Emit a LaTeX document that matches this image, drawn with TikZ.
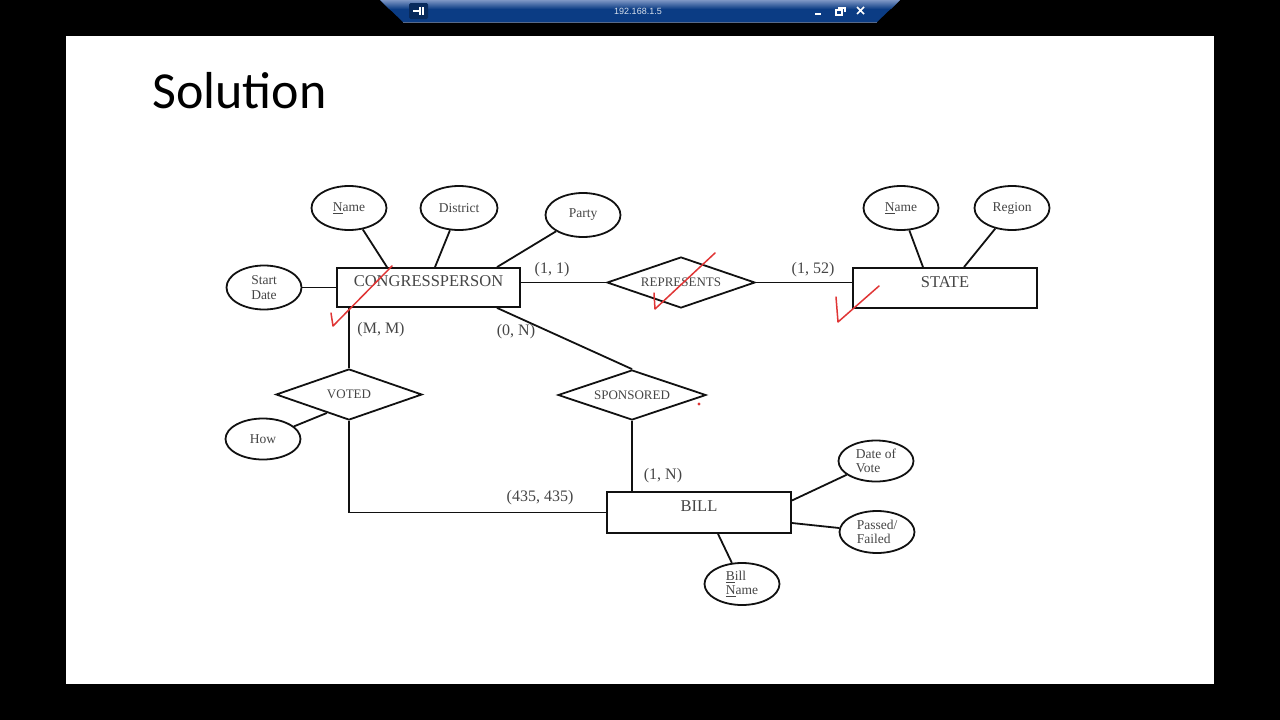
\documentclass[tikz,border=0pt]{standalone}
\usepackage{fontspec}
\setmainfont{Liberation Serif}
\newfontfamily\slidefont{Carlito}
\newfontfamily\barfont{Liberation Sans}
\usetikzlibrary{shapes.geometric,calc,positioning}
\definecolor{erink}{HTML}{111111}
\definecolor{ertext}{HTML}{454545}
\definecolor{checkred}{HTML}{E03535}
\definecolor{barblue}{HTML}{0B3C84}
\definecolor{barlight}{HTML}{7D96C4}
\tikzset{
  entitybox/.style={
    draw=erink, line width=1.8pt, rectangle, inner sep=0pt,
    minimum width=183pt, minimum height=39pt,
    text height=11pt, text depth=13pt,
    font=\fontsize{16.5}{18}\selectfont, text=ertext
  },
  relbox/.style={
    draw=erink, line width=1.8pt, diamond, aspect=2.9, inner sep=0pt,
    minimum width=148pt, minimum height=51pt,
    font=\fontsize{13}{15}\selectfont, text=ertext
  },
  attrell/.style={
    draw=erink, line width=1.8pt, ellipse, inner sep=0pt,
    minimum width=75pt, minimum height=44pt, align=left,
    font=\fontsize{13.5}{14.5}\selectfont, text=ertext
  },
  cardlabel/.style={font=\fontsize{16}{18}\selectfont, text=ertext, inner sep=0pt},
  erlink/.style={draw=erink, line width=1.8pt},
  tick/.style={draw=checkred, line width=1.5pt, line cap=round, line join=round}
}

\begin{document}
\begin{tikzpicture}[x=1pt,y=-1pt]
  \useasboundingbox (0,0) rectangle (1280,720);
  \fill[black] (0,0) rectangle (1280,720);
  \fill[white] (66,36) rectangle (1214,684);

  \fill[barblue] (380,0) -- (900,0) -- (877,22) -- (403,22) -- cycle;
  \shade[top color=barlight, bottom color=barblue] (380,0) -- (900,0) -- (891,9) -- (389,9) -- cycle;
  \draw[barlight!70!black, line width=0.8pt] (403,22) -- (877,22);
  \fill[barblue!70!black, rounded corners=1.5pt] (409,3) rectangle (428,19);
  \draw[white, line width=1.4pt] (413,11) -- (420,11) (420,7) -- (420,15) (423,7) -- (423,15);
  \node[font=\barfont\fontsize{9}{10}\selectfont, text=white!85!barblue, inner sep=0pt] (hostname) at (638,11) {192.168.1.5};
  \draw[white, line width=1.4pt] (815,14) -- (821,14);
  \draw[white, line width=1.1pt] (836,10) rectangle (842,15) (838,8) -- (845,8) -- (845,12);
  \draw[white, line width=1.5pt] (857,7) -- (864,14) (857,14) -- (864,7);

  \node[font=\slidefont\fontsize{52}{60}\selectfont, anchor=base west, inner sep=0pt] (title) at (152,108) {Solution};

  \node[entitybox] (cp) at (428.5,287.5) {CONGRESSPERSON};
  \node[entitybox, minimum width=184pt, minimum height=40pt] (state) at (945,288) {STATE};
  \node[entitybox, minimum width=184pt, minimum height=41pt] (bill) at (699,512.5) {BILL};

  \node[relbox] (represents) at (681,282.5) {REPRESENTS};
  \node[relbox, minimum width=146pt] (voted) at (349,394.5) {VOTED};
  \node[relbox, minimum height=50pt] (sponsored) at (632,395) {SPONSORED};

  \node[attrell] (cname) at (349,208) {\underline{N}ame};
  \node[attrell, minimum width=77pt] (cdistrict) at (459,208) {District};
  \node[attrell] (cparty) at (583,215) {Party};
  \node[attrell] (cstart) at (264,287.5) {Start\\Date};
  \node[attrell] (sname) at (901,208) {\underline{N}ame};
  \node[attrell] (sregion) at (1012,208) {Region};
  \node[attrell, minimum height=41pt] (vhow) at (263,439) {How};
  \node[attrell, minimum height=41pt] (bdate) at (876,461) {Date of\\Vote};
  \node[attrell, minimum height=42pt] (bpassed) at (877,532) {Passed/\\Failed};
  \node[attrell, minimum height=42pt] (bname) at (742,584) {\underline{B}ill\\\underline{N}ame};

  \draw[erlink] (cname) -- ([xshift=-41.5pt]cp.north);
  \draw[erlink] (cdistrict) -- ([xshift=6.5pt]cp.north);
  \draw[erlink] (cparty) -- ([xshift=68.5pt]cp.north);
  \draw[erlink] (cstart) -- (cp.west);
  \draw[erlink] (represents.west) -- (represents.west -| cp.east);
  \draw[erlink] (represents.east) -- (represents.east -| state.west);
  \draw[erlink] (sname) -- ([xshift=-22pt]state.north);
  \draw[erlink] (sregion) -- ([xshift=19pt]state.north);
  \draw[erlink] (voted.north |- cp.south) -- (voted.north);
  \draw[erlink] ([xshift=68.5pt]cp.south) -- (sponsored.north);
  \draw[erlink] (vhow) -- ($(voted.west)!0.7!(voted.south)$);
  \draw[erlink] (voted.south) |- (bill.west);
  \draw[erlink] (sponsored.south) -- (sponsored.south |- bill.north);
  \draw[erlink] (bdate) -- ([yshift=12pt]bill.east);
  \draw[erlink] (bpassed) -- ([yshift=-10.5pt]bill.east);
  \draw[erlink] (bname) -- ([xshift=19pt]bill.south);

  \node[cardlabel] (cprep) at (552,270) {(1, 1)};
  \node[cardlabel] (repstate) at (813,270) {(1, 52)};
  \node[cardlabel] (cpvoted) at (381,330) {(M, M)};
  \node[cardlabel] (cpspons) at (516,332) {(0, N)};
  \node[cardlabel] (sponsbill) at (663,476) {(1, N)};
  \node[cardlabel] (votedbill) at (540,498) {(435, 435)};

  \draw[tick] (331,313) -- (333,326) -- (392,266);
  \draw[tick] (654,293) -- (655,309) -- (715,253);
  \draw[tick] (836,297) -- (838,322) -- (879,286);
  \fill[checkred] (699,404) circle (1.6);
\end{tikzpicture}
\end{document}
